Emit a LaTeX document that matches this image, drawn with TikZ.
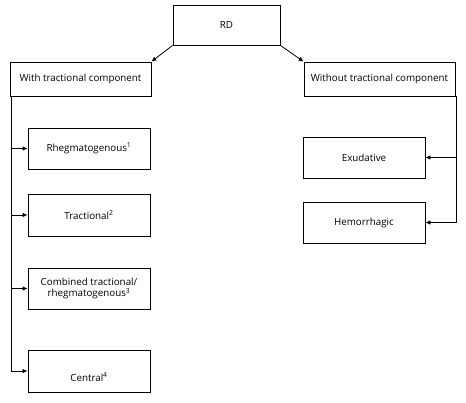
\documentclass[tikz,border=0pt]{standalone}
\usepackage{fontspec}
\setmainfont{Open Sans}
\usetikzlibrary{arrows.meta}
\begin{document}
\begin{tikzpicture}[x=1pt,y=-1pt,
  box/.style={draw,line width=0.8pt,inner sep=0pt,font=\fontsize{9.8}{11.5}\selectfont,align=center},
  conn/.style={line width=0.8pt,-{Latex[length=5pt,width=4.5pt]}},
  plain/.style={line width=0.8pt}]
\useasboundingbox (0,0) rectangle (466,402);
\node[box,minimum width=107pt,minimum height=40pt] (rd) at (226.5,25) {RD};
\node[box,minimum width=141pt,minimum height=34pt] (with) at (80.5,79) {With tractional component};
\node[box,minimum width=151pt,minimum height=34pt] (without) at (379.5,79) {Without tractional component};
\node[box,minimum width=122pt,minimum height=41pt] (rheg) at (89,148.5) {Rhegmatogenous\textsuperscript{1}};
\node[box,minimum width=122pt,minimum height=42pt] (trac) at (89,215) {Tractional\textsuperscript{2}};
\node[box,minimum width=122pt,minimum height=41pt] (comb) at (89,288.5) {Combined tractional/\\rhegmatogenous\textsuperscript{3}};
\node[box,minimum width=122pt,minimum height=42pt] (cent) at (89,371) {};
\node[font=\fontsize{9.8}{11.5}\selectfont,inner sep=0pt] (centtxt) at (89,377) {Central\textsuperscript{4}};
\node[box,minimum width=122pt,minimum height=41pt] (exu) at (364,157.5) {Exudative};
\node[box,minimum width=122pt,minimum height=41pt] (hem) at (364,222.5) {Hemorrhagic};
\draw[conn] (rd.south west) -- (with.north east);
\draw[conn] (rd.south east) -- (without.north west);
\coordinate (lb) at (11,371);
\draw[plain] (with.south west -| lb) -- (lb);
\draw[conn] (rheg.west -| lb) -- (rheg.west);
\draw[conn] (trac.west -| lb) -- (trac.west);
\draw[conn] (comb.west -| lb) -- (comb.west);
\draw[conn] (lb) -- (cent.west);
\coordinate (rb) at (456,222.5);
\draw[plain] (without.south east -| rb) -- (rb);
\draw[conn] (exu.east -| rb) -- (exu.east);
\draw[conn] (rb) -- (hem.east);
\end{tikzpicture}
\end{document}
